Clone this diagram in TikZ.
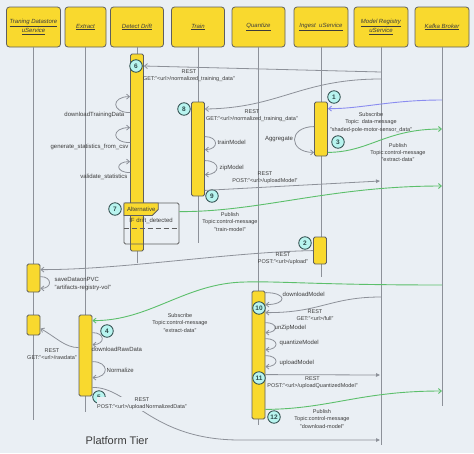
\documentclass[tikz,border=0pt]{standalone}
\usepackage{fontspec}
\setmainfont{Liberation Sans}
\usetikzlibrary{arrows.meta, positioning, calc, shapes.misc}
\definecolor{cbg}{HTML}{EAEFF4}
\definecolor{cyel}{HTML}{F9D92E}
\definecolor{cedge}{HTML}{5F5F5F}
\definecolor{cline}{HTML}{8D9199}
\definecolor{cgreen}{HTML}{5CBF6B}
\definecolor{cblue}{HTML}{8A8CF0}
\definecolor{cnum}{HTML}{B8F4EF}
\definecolor{cnumedge}{HTML}{2E4B4B}
\definecolor{ctext}{HTML}{3C3C3C}

\begin{document}
\begin{tikzpicture}[
    x=1pt, y=-1pt,
    >={Straight Barb[length=3pt,width=5pt]},
    hdr/.style={
        draw=cedge, fill=cyel, line width=0.8pt, rounded corners=3pt,
        minimum width=#1, minimum height=40pt, align=center, inner sep=1pt,
        font=\fontsize{6}{7}\selectfont\itshape, text=ctext},
    hdr/.default=53pt,
    life/.style={draw=cline, line width=0.8pt},
    act/.style={draw=cedge, fill=cyel, line width=0.8pt, rounded corners=1.5pt,
        minimum width=13pt, minimum height=#1, inner sep=0pt},
    num/.style={circle, draw=cnumedge, fill=cnum, line width=0.8pt, minimum size=12.5pt,
        inner sep=0pt, font=\fontsize{6.5}{7}\selectfont\bfseries, text=cnumedge},
    msg/.style={->, draw=cline, line width=0.8pt},
    call/.style={-{Triangle[length=4pt,width=3.5pt]}, draw=cline, line width=0.8pt},
    pub/.style={->, draw=cgreen, line width=0.9pt},
    sub/.style={->, draw=cblue, line width=0.9pt},
    lbl/.style={font=\fontsize{5.5}{7.2}\selectfont, align=center, text=ctext, inner sep=0.5pt},
    oplbl/.style={font=\fontsize{6}{7.6}\selectfont, align=left, text=ctext, inner sep=0.5pt},
    altbox/.style={draw=cedge, line width=0.8pt, rounded corners=1.5pt,
        minimum width=55pt, minimum height=41pt, inner sep=0pt},
    alttab/.style={chamfered rectangle, chamfered rectangle corners=south east,
        chamfered rectangle xsep=2.5pt, draw=cedge, fill=cyel, line width=0.8pt,
        minimum width=34pt, minimum height=10pt, inner sep=0.5pt,
        font=\fontsize{6}{7}\selectfont, text=ctext}
]
%% Canvas
\fill[cbg] (0,0) rectangle (474,453);
\useasboundingbox (0,0) rectangle (474,453);

%% Participants along the top
\node[hdr=54pt] (tds) at (33.5,27)  {\underline{Traning Datastore}\\\underline{uService}};
\node[hdr=41pt] (ext) at (85.5,27)  {\underline{Extract}};
\node[hdr]      (dd)  at (137,27)   {\underline{Detect Drift}};
\node[hdr]      (trn) at (198,27)   {\underline{Train}};
\node[hdr]      (qnt) at (258.5,27) {\underline{Quantize}};
\node[hdr=54pt] (ing) at (321,27)   {\underline{Ingest \ uService}};
\node[hdr=54pt] (reg) at (381,27)   {\underline{Model Registry}\\\underline{uService}};
\node[hdr=54pt] (kaf) at (442,27)   {\underline{Kafka Broker}};

%% Lifelines
\draw[life] (tds.south) -- ++(0,373);
\draw[life] (ext.south) -- ++(0,365);
\draw[life] (dd.south)  -- ++(0,216);
\draw[life] (trn.south) -- ++(0,196);
\draw[life] (qnt.south) -- ++(0,378);
\draw[life] (ing.south) -- ++(0,230);
\draw[life] (reg.south) -- ++(0,398);
\draw[life] (kaf.south) -- ++(0,359);

%% Activations
\node[act=197pt] (ddact)   at (137,152.5)  {};
\node[act=94pt]  (trnact)  at (198,149)    {};
\node[act=54pt]  (ingact)  at (321,129)    {};
\node[act=27pt]  (ingact2) at (320,250.5)  {};
\node[act=28pt]  (tdsact1) at (33.5,278)   {};
\node[act=20pt]  (tdsact2) at (33.5,325)   {};
\node[act=81pt]  (extact)  at (85.5,355.5) {};
\node[act=128pt] (qntact)  at (258.5,355)  {};

%% Alternative fragment over Detect Drift
\node[altbox] (alt) at (151.5,223.5) {};
\node[alttab, anchor=north west] (alttab) at (alt.north west) {Alternative};
\node[oplbl] (altcond) at (151,221) {IF drift\_detected};
\draw[draw=cedge, line width=0.8pt, dash pattern=on 5pt off 3pt]
    ([yshift=-26pt]alt.north west) -- ([yshift=-26pt]alt.north east);

%% Lifeline end points of the messages
\coordinate (reg6)  at (381,72);
\coordinate (reg8)  at (381,79);
\coordinate (kaf1)  at (442,100);
\coordinate (kaf3)  at (442,129);
\coordinate (reg9)  at (380,181);
\coordinate (kaf7)  at (442,186);
\coordinate (kaf4)  at (442,285);
\coordinate (reg10) at (381,297);
\coordinate (reg11) at (380,375);
\coordinate (kaf12) at (442,391);
\coordinate (reg5)  at (380,440);

%% Step numbers
\node[num] (n1)  at (334,97)  {1};
\node[num] (n2)  at (305,243) {2};
\node[num] (n3)  at (338,142) {3};
\node[num] (n4)  at (107,331) {4};
\node[num] (n5)  at (99,397)  {5};
\node[num] (n6)  at (136,66)  {6};
\node[num] (n7)  at (115,209) {7};
\node[num] (n8)  at (184,109) {8};
\node[num] (n9)  at (212,196) {9};
\node[num] (n10) at (259,308) {10};
\node[num] (n11) at (259,378) {11};
\node[num] (n12) at (274,417) {12};

%% Detect Drift
\draw[msg] (reg6) -- (n6 -| ddact.east);
\node[lbl] (l6) at (189,76) {REST\\GET:"<url>/normalized\_training\_data"};
\draw[msg] ([yshift=-59pt]ddact.north west) .. controls +(-19,0) and +(-19,0) .. ([yshift=-43pt]ddact.north west);
\draw[msg] ([yshift=-89pt]ddact.north west) .. controls +(-19,0) and +(-19,0) .. ([yshift=-74pt]ddact.north west);
\draw[msg] ([yshift=-119pt]ddact.north west) .. controls +(-15,0) and +(-15,0) .. ([yshift=-108pt]ddact.north west);
\node[oplbl, anchor=east] (op1) at (125,115) {downloadTrainingData};
\node[oplbl, anchor=east] (op2) at (129,147) {generate\_statistics\_from\_csv};
\node[oplbl, anchor=east] (op3) at (128,177) {validate\_statistics};
\draw[pub] ([yshift=-9pt]alt.north east) .. controls (260,212) and (330,186) .. (kaf7);
\node[lbl] (l7) at (230,222) {Publish\\Topic:control-message\\"train-model"};

%% Train
\draw[msg] (reg8) .. controls (300,79) and (280,108) .. (n8 -| trnact.east);
\node[lbl] (l8) at (252,115.5) {REST\\GET:"<url>/normalized\_training\_data"};
\draw[msg] ([yshift=-35pt]trnact.north east) .. controls +(14,0) and +(14,0) .. ([yshift=-48pt]trnact.north east);
\draw[msg] ([yshift=-59pt]trnact.north east) .. controls +(16,0) and +(16,0) .. ([yshift=-73pt]trnact.north east);
\node[oplbl, anchor=west] (op4) at (217,142) {trainModel};
\node[oplbl, anchor=west] (op5) at (219,168) {zipModel};
\draw[call] ([yshift=6pt]trnact.south east) -- (reg9);
\node[lbl] (l9) at (265,177.5) {REST\\POST:"<url>/uploadModel"};

%% Ingest
\draw[sub] (kaf1) .. controls (390,100) and (360,109) .. ([yshift=-7pt]ingact.north east);
\node[lbl] (l1) at (371,122.5) {Subscribe\\Topic: data-message\\"shaded-pole-motor-sensor\_data"};
\draw[msg] ([yshift=-25pt]ingact.north west) .. controls +(-26,0) and +(-26,0) .. ([yshift=4pt]ingact.south west);
\node[oplbl] (op6) at (279,139) {Aggregate};
\draw[pub] ([yshift=4pt]ingact.south east) .. controls (370,152) and (385,129) .. (kaf3);
\node[lbl] (l3) at (398,152.5) {Publish\\Topic:control-message\\"extract-data"};
\draw[msg] ([yshift=-14pt]ingact2.north west) .. controls (230,252) and (120,270) .. ([yshift=-6pt]tdsact1.north east);
\node[lbl] (l2) at (283,258.5) {REST\\POST:"<url>/upload"};

%% Training Datastore
\draw[msg] ([yshift=-13pt]tdsact1.north east) .. controls +(12,0) and +(12,0) .. ([yshift=4pt]tdsact1.south east);
\node[oplbl, anchor=west] (op7) at (54,284) {saveDataonPVC\\"artifacts-registry-vol"};

%% Extract
\draw[pub] (kaf4) .. controls (320,285) and (280,281) .. (245,282)
    .. controls (185,283) and (150,321) .. ([yshift=-6pt]extact.north east);
\node[lbl] (l4) at (180,323) {Subscribe\\Topic:control-message\\"extract-data"};
\draw[msg] ([yshift=-18pt]extact.north east) .. controls +(13,0) and +(13,0) .. ([yshift=-30pt]extact.north east);
\node[oplbl, anchor=west] (op8) at (91,349) {downloadRawData};
\draw[msg] ([yshift=-47pt]extact.north east) .. controls +(17,0) and +(17,0) .. ([yshift=-63pt]extact.north east);
\node[oplbl, anchor=west] (op9) at (106,370) {Normalize};
\draw[msg] ([yshift=-33pt]extact.north west) .. controls +(-14,0) and +(15,8) .. ([yshift=-14pt]tdsact2.north east);
\node[lbl] (l5a) at (52,354.5) {REST\\GET:"<url>/rawdata"};
\draw[call] ([yshift=9pt]extact.south east) .. controls (130,387) and (150,440) .. (240,440) -- (reg5);
\node[lbl, fill=cbg] (l5b) at (142,404) {REST\\POST:"<url>/uploadNormalizedData"};

%% Quantize
\draw[msg] ([yshift=-2pt]qntact.north east) .. controls +(22,0) and +(22,0) .. ([yshift=-14pt]qntact.north east);
\node[oplbl, anchor=west] (op10) at (282,294) {downloadModel};
\draw[msg] (reg10) .. controls (330,297) and (320,313) .. ([yshift=-22pt]qntact.north east);
\node[lbl] (l10) at (315,315.5) {REST\\GET:"<url>/full"};
\draw[msg] ([yshift=-32pt]qntact.north east) .. controls +(13,0) and +(13,0) .. ([yshift=-42pt]qntact.north east);
\draw[msg] ([yshift=-48pt]qntact.north east) .. controls +(14,0) and +(14,0) .. ([yshift=-59pt]qntact.north east);
\draw[msg] ([yshift=-65pt]qntact.north east) .. controls +(14,0) and +(14,0) .. ([yshift=-76pt]qntact.north east);
\node[oplbl, anchor=west] (op11) at (274,328) {unZipModel};
\node[oplbl, anchor=west] (op12) at (279,343) {quantizeModel};
\node[oplbl, anchor=west] (op13) at (279,363) {uploadModel};
\draw[call] ([yshift=-84pt]qntact.north east) -- (reg11);
\node[lbl] (l11) at (312.5,382.5) {REST\\POST:"<url>/uploadQuantizedModel"};
\draw[pub] ([yshift=10pt]qntact.south east) .. controls (330,409) and (360,391) .. (kaf12);
\node[lbl] (l12) at (322,419) {Publish\\Topic:control-message\\"download-model"};

%% Tier caption
\node[font=\fontsize{11}{13}\selectfont, text=ctext] (tier) at (117,441) {Platform Tier};

\end{tikzpicture}
\end{document}
